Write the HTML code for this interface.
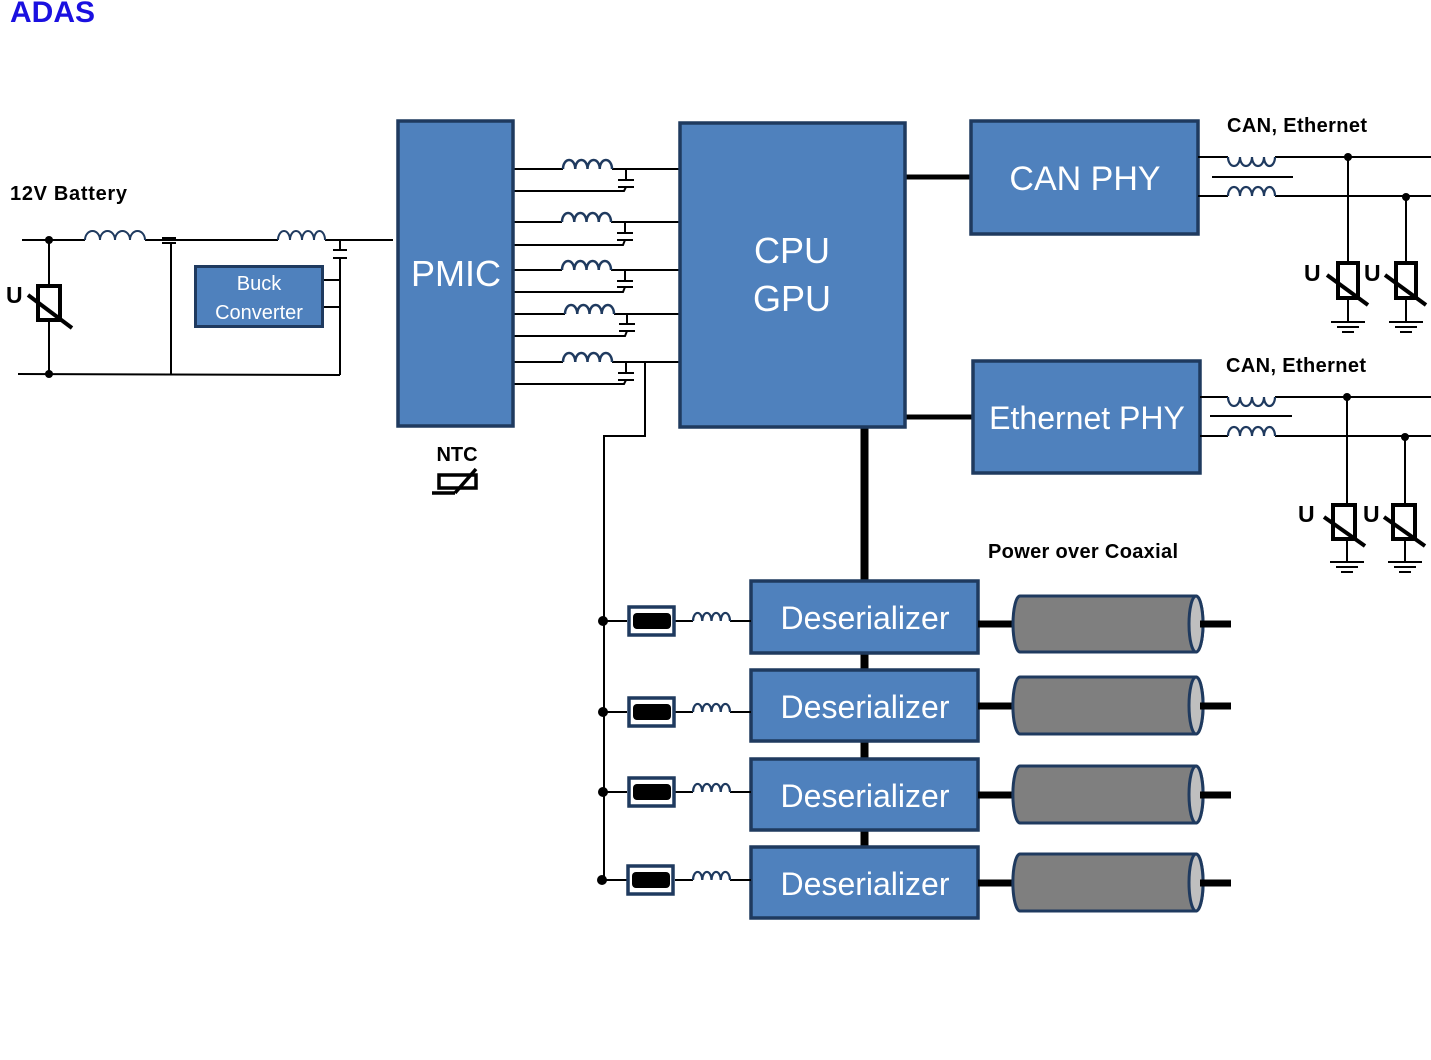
<!DOCTYPE html>
<html><head><meta charset="utf-8"><style>
html,body{margin:0;padding:0;background:#fff;}
svg{display:block;}
text{font-family:"Liberation Sans",sans-serif;}
</style></head><body>
<svg width="1431" height="1060" viewBox="0 0 1431 1060" xmlns="http://www.w3.org/2000/svg">
<g fill="none" stroke="#000" stroke-width="2">
<line x1="22" y1="240" x2="85" y2="240"/>
<line x1="145" y1="240" x2="278" y2="240"/>
<line x1="325" y1="240" x2="393" y2="240"/>
<line x1="18" y1="374" x2="340" y2="375"/>
<line x1="49" y1="240" x2="49" y2="286"/>
<line x1="49" y1="320" x2="49" y2="374"/>
<line x1="162" y1="238" x2="176" y2="238"/>
<line x1="162" y1="243" x2="176" y2="243"/>
<line x1="171" y1="243" x2="171" y2="374"/>
<line x1="340" y1="240" x2="340" y2="250"/>
<line x1="333" y1="250" x2="347" y2="250"/>
<line x1="333" y1="258" x2="347" y2="258"/>
<line x1="340" y1="258" x2="340" y2="375"/>
<line x1="323" y1="280" x2="340" y2="280"/>
<line x1="323" y1="307" x2="340" y2="307"/>
</g>
<g fill="none" stroke="#1f3a5f" stroke-width="2">
<path d="M85,240 a7.5,9 0 0 1 15,0 a7.5,9 0 0 1 15,0 a7.5,9 0 0 1 15,0 a7.5,9 0 0 1 15,0"/>
<path d="M278,240 a6,9 0 0 1 12,0 a6,9 0 0 1 12,0 a6,9 0 0 1 12,0 a5.5,9 0 0 1 11,0"/>
</g>
<g fill="#000"><circle cx="49" cy="240" r="4"/><circle cx="49" cy="374" r="4"/></g>
<g transform="translate(49,286)" stroke="#000" stroke-width="4" fill="none">
<rect x="-11" y="0" width="22" height="34"/><line x1="-21" y1="9" x2="23" y2="42"/>
</g>
<text x="6" y="303" font-size="23" font-weight="bold">U</text>

<text x="10" y="200" font-size="20" font-weight="bold" textLength="117">12V Battery</text>
<text x="10" y="22" font-size="30" font-weight="bold" fill="#1a10e0">ADAS</text>

<rect x="195.5" y="266.5" width="127" height="60" fill="#4f81bd" stroke="#1f3a5f" stroke-width="3"/>
<text x="259" y="290" font-size="20" fill="#fff" text-anchor="middle">Buck</text>
<text x="259" y="319" font-size="20" fill="#fff" text-anchor="middle">Converter</text>

<g fill="none" stroke="#000" stroke-width="2">
<path d="M513,169 H563 M612,169 H679 M626,169 V180 M618,180 H634 M618,187 H634 M513,191 H624 L626,187"/>
<path d="M513,222 H562 M611,222 H679 M625,222 V233 M617,233 H633 M617,240 H633 M513,245 H623 L625,240"/>
<path d="M513,270 H562 M611,270 H679 M625,270 V281 M617,281 H633 M617,287 H633 M513,292 H623 L625,287"/>
<path d="M514,314 H565 M614,314 H679 M627,314 V324 M619,324 H635 M619,331 H635 M514,336 H625 L627,331"/>
<path d="M513,362 H563 M612,362 H679 M626,362 V373 M618,373 H634 M618,380 H634 M513,384 H624 L626,380"/>
<path d="M645,362 V436 H604 V880"/>
</g>
<g fill="none" stroke="#1f3a5f" stroke-width="2.5">
<path d="M563,169 a6.1,9 0 0 1 12.25,0 a6.1,9 0 0 1 12.25,0 a6.1,9 0 0 1 12.25,0 a6.1,9 0 0 1 12.25,0"/>
<path d="M562,222 a6.1,9 0 0 1 12.25,0 a6.1,9 0 0 1 12.25,0 a6.1,9 0 0 1 12.25,0 a6.1,9 0 0 1 12.25,0"/>
<path d="M562,270 a6.1,9 0 0 1 12.25,0 a6.1,9 0 0 1 12.25,0 a6.1,9 0 0 1 12.25,0 a6.1,9 0 0 1 12.25,0"/>
<path d="M565,314 a6.1,9 0 0 1 12.25,0 a6.1,9 0 0 1 12.25,0 a6.1,9 0 0 1 12.25,0 a6.1,9 0 0 1 12.25,0"/>
<path d="M563,362 a6.1,9 0 0 1 12.25,0 a6.1,9 0 0 1 12.25,0 a6.1,9 0 0 1 12.25,0 a6.1,9 0 0 1 12.25,0"/>
</g>

<g stroke="#000">
<line x1="905" y1="177" x2="971" y2="177" stroke-width="5"/>
<line x1="905" y1="417" x2="973" y2="417" stroke-width="5"/>
<line x1="864.5" y1="427" x2="864.5" y2="847" stroke-width="8"/>
</g>

<g fill="#4f81bd" stroke="#1f3a5f" stroke-width="3.5">
<rect x="398" y="121" width="115" height="305"/>
<rect x="680" y="123" width="225" height="304"/>
<rect x="971" y="121" width="227" height="113"/>
<rect x="973" y="361" width="227" height="112"/>
<rect x="751" y="581" width="227" height="72"/>
<rect x="751" y="670" width="227" height="71"/>
<rect x="751" y="759" width="227" height="71"/>
<rect x="751" y="847" width="227" height="71"/>
</g>
<g fill="#fff" text-anchor="middle">
<text x="456" y="286" font-size="36">PMIC</text>
<text x="792" y="263" font-size="36">CPU</text>
<text x="792" y="311" font-size="36">GPU</text>
<text x="1085" y="190" font-size="34">CAN PHY</text>
<text x="1087" y="429" font-size="32">Ethernet PHY</text>
<text x="865" y="629" font-size="32">Deserializer</text>
<text x="865" y="718" font-size="32">Deserializer</text>
<text x="865" y="807" font-size="32">Deserializer</text>
<text x="865" y="895" font-size="32">Deserializer</text>
</g>

<text x="457" y="461" font-size="20" font-weight="bold" text-anchor="middle">NTC</text>
<g stroke="#000" stroke-width="3.5" fill="none">
<rect x="439" y="475" width="37" height="13"/>
<line x1="432" y1="493" x2="455" y2="493"/><line x1="455" y1="493" x2="476" y2="469"/>
</g>

<g fill="none" stroke="#000" stroke-width="2">
<path d="M1198,157 H1228 M1275,157 H1431 M1212,177 H1293 M1198,196 H1228 M1275,196 H1431"/>
<path d="M1200,397 H1228 M1275,397 H1431 M1210,416 H1292 M1200,436 H1228 M1275,436 H1431"/>
<path d="M1348,157 V263 M1406,197 V263 M1347,397 V505 M1405,437 V505"/>
</g>
<g fill="none" stroke="#1f3a5f" stroke-width="2.2">
<path d="M1228,157 a6,9 0 0 0 12,0 a6,9 0 0 0 12,0 a6,9 0 0 0 12,0 a5.5,9 0 0 0 11,0"/>
<path d="M1228,196 a6,9 0 0 1 12,0 a6,9 0 0 1 12,0 a6,9 0 0 1 12,0 a5.5,9 0 0 1 11,0"/>
<path d="M1228,397 a6,9 0 0 0 12,0 a6,9 0 0 0 12,0 a6,9 0 0 0 12,0 a5.5,9 0 0 0 11,0"/>
<path d="M1228,436 a6,9 0 0 1 12,0 a6,9 0 0 1 12,0 a6,9 0 0 1 12,0 a5.5,9 0 0 1 11,0"/>
</g>
<g fill="#000"><circle cx="1348" cy="157" r="4"/><circle cx="1406" cy="197" r="4"/><circle cx="1347" cy="397" r="4"/><circle cx="1405" cy="437" r="4"/></g>

<g stroke="#000" fill="none">
<g transform="translate(1348,263)"><rect x="-10" y="0" width="20" height="35" stroke-width="4"/><line x1="-21" y1="12" x2="20" y2="42" stroke-width="4"/><path d="M0,35 V59 M-17,59 H17 M-11,64 H11 M-6,69 H6" stroke-width="2"/></g>
<g transform="translate(1406,263)"><rect x="-10" y="0" width="20" height="35" stroke-width="4"/><line x1="-21" y1="12" x2="20" y2="42" stroke-width="4"/><path d="M0,35 V59 M-17,59 H17 M-11,64 H11 M-6,69 H6" stroke-width="2"/></g>
<g transform="translate(1345,505)"><rect x="-12" y="0" width="22" height="34" stroke-width="4"/><line x1="-21" y1="12" x2="20" y2="41" stroke-width="4"/><path d="M2,34 V57 M-15,57 H19 M-9,62 H13 M-4,67 H8" stroke-width="2"/></g>
<g transform="translate(1405,505)"><rect x="-12" y="0" width="22" height="34" stroke-width="4"/><line x1="-21" y1="12" x2="20" y2="41" stroke-width="4"/><path d="M0,34 V57 M-17,57 H17 M-11,62 H11 M-6,67 H6" stroke-width="2"/></g>
</g>
<g font-size="23" font-weight="bold">
<text x="1304" y="281">U</text><text x="1364" y="281">U</text>
<text x="1298" y="522">U</text><text x="1363" y="522">U</text>
</g>
<g font-size="20" font-weight="bold">
<text x="1227" y="132" textLength="140">CAN, Ethernet</text>
<text x="1226" y="372" textLength="140">CAN, Ethernet</text>
<text x="988" y="558" textLength="190">Power over Coaxial</text>
</g>

<g fill="none" stroke="#000" stroke-width="2">
<path d="M603,621 H627 M675,621 H693 M730,621 H751"/>
<path d="M603,712 H627 M675,712 H693 M730,712 H751"/>
<path d="M603,792 H627 M675,792 H693 M730,792 H751"/>
<path d="M603,880 H627 M675,880 H693 M730,880 H751"/>
</g>
<g fill="none" stroke="#1f3a5f" stroke-width="2.2">
<path d="M693,621 a4.6,8 0 0 1 9.25,0 a4.6,8 0 0 1 9.25,0 a4.6,8 0 0 1 9.25,0 a4.6,8 0 0 1 9.25,0"/>
<path d="M693,712 a4.6,8 0 0 1 9.25,0 a4.6,8 0 0 1 9.25,0 a4.6,8 0 0 1 9.25,0 a4.6,8 0 0 1 9.25,0"/>
<path d="M693,792 a4.6,8 0 0 1 9.25,0 a4.6,8 0 0 1 9.25,0 a4.6,8 0 0 1 9.25,0 a4.6,8 0 0 1 9.25,0"/>
<path d="M693,880 a4.6,8 0 0 1 9.25,0 a4.6,8 0 0 1 9.25,0 a4.6,8 0 0 1 9.25,0 a4.6,8 0 0 1 9.25,0"/>
</g>
<g fill="#fff" stroke="#1f3a5f" stroke-width="3.5">
<rect x="629" y="607" width="45" height="28"/>
<rect x="629" y="698" width="45" height="28"/>
<rect x="629" y="778" width="45" height="28"/>
<rect x="628" y="866" width="45" height="28"/>
</g>
<g fill="#000">
<rect x="633" y="613" width="38" height="16" rx="4"/>
<rect x="633" y="704" width="38" height="16" rx="4"/>
<rect x="633" y="784" width="38" height="16" rx="4"/>
<rect x="632" y="872" width="38" height="16" rx="4"/>
<circle cx="603" cy="621" r="5"/><circle cx="603" cy="712" r="5"/><circle cx="603" cy="792" r="5"/><circle cx="602" cy="880" r="5"/>
</g>

<g stroke="#000" stroke-width="7">
<line x1="978" y1="624" x2="1012" y2="624"/>
<line x1="978" y1="706" x2="1012" y2="706"/>
<line x1="978" y1="795" x2="1012" y2="795"/>
<line x1="978" y1="883" x2="1012" y2="883"/>
</g>
<g stroke="#1f3a5f" stroke-width="3">
<g transform="translate(0,596)"><path d="M1020,0 H1196 A7,28 0 0 1 1196,56 H1020 A7,28 0 0 1 1020,0 Z" fill="#7f7f7f"/><ellipse cx="1196" cy="28" rx="7" ry="28" fill="#bfbfbf"/></g>
<g transform="translate(0,677)"><path d="M1020,0 H1196 A7,28 0 0 1 1196,57 H1020 A7,28 0 0 1 1020,0 Z" fill="#7f7f7f"/><ellipse cx="1196" cy="28.5" rx="7" ry="28.5" fill="#bfbfbf"/></g>
<g transform="translate(0,766)"><path d="M1020,0 H1196 A7,28 0 0 1 1196,57 H1020 A7,28 0 0 1 1020,0 Z" fill="#7f7f7f"/><ellipse cx="1196" cy="28.5" rx="7" ry="28.5" fill="#bfbfbf"/></g>
<g transform="translate(0,854)"><path d="M1020,0 H1196 A7,28 0 0 1 1196,57 H1020 A7,28 0 0 1 1020,0 Z" fill="#7f7f7f"/><ellipse cx="1196" cy="28.5" rx="7" ry="28.5" fill="#bfbfbf"/></g>
</g>
<g stroke="#000" stroke-width="7">
<line x1="1200" y1="624" x2="1231" y2="624"/><line x1="1200" y1="706" x2="1231" y2="706"/>
<line x1="1200" y1="795" x2="1231" y2="795"/><line x1="1200" y1="883" x2="1231" y2="883"/>
</g>
</svg>
</body></html>
